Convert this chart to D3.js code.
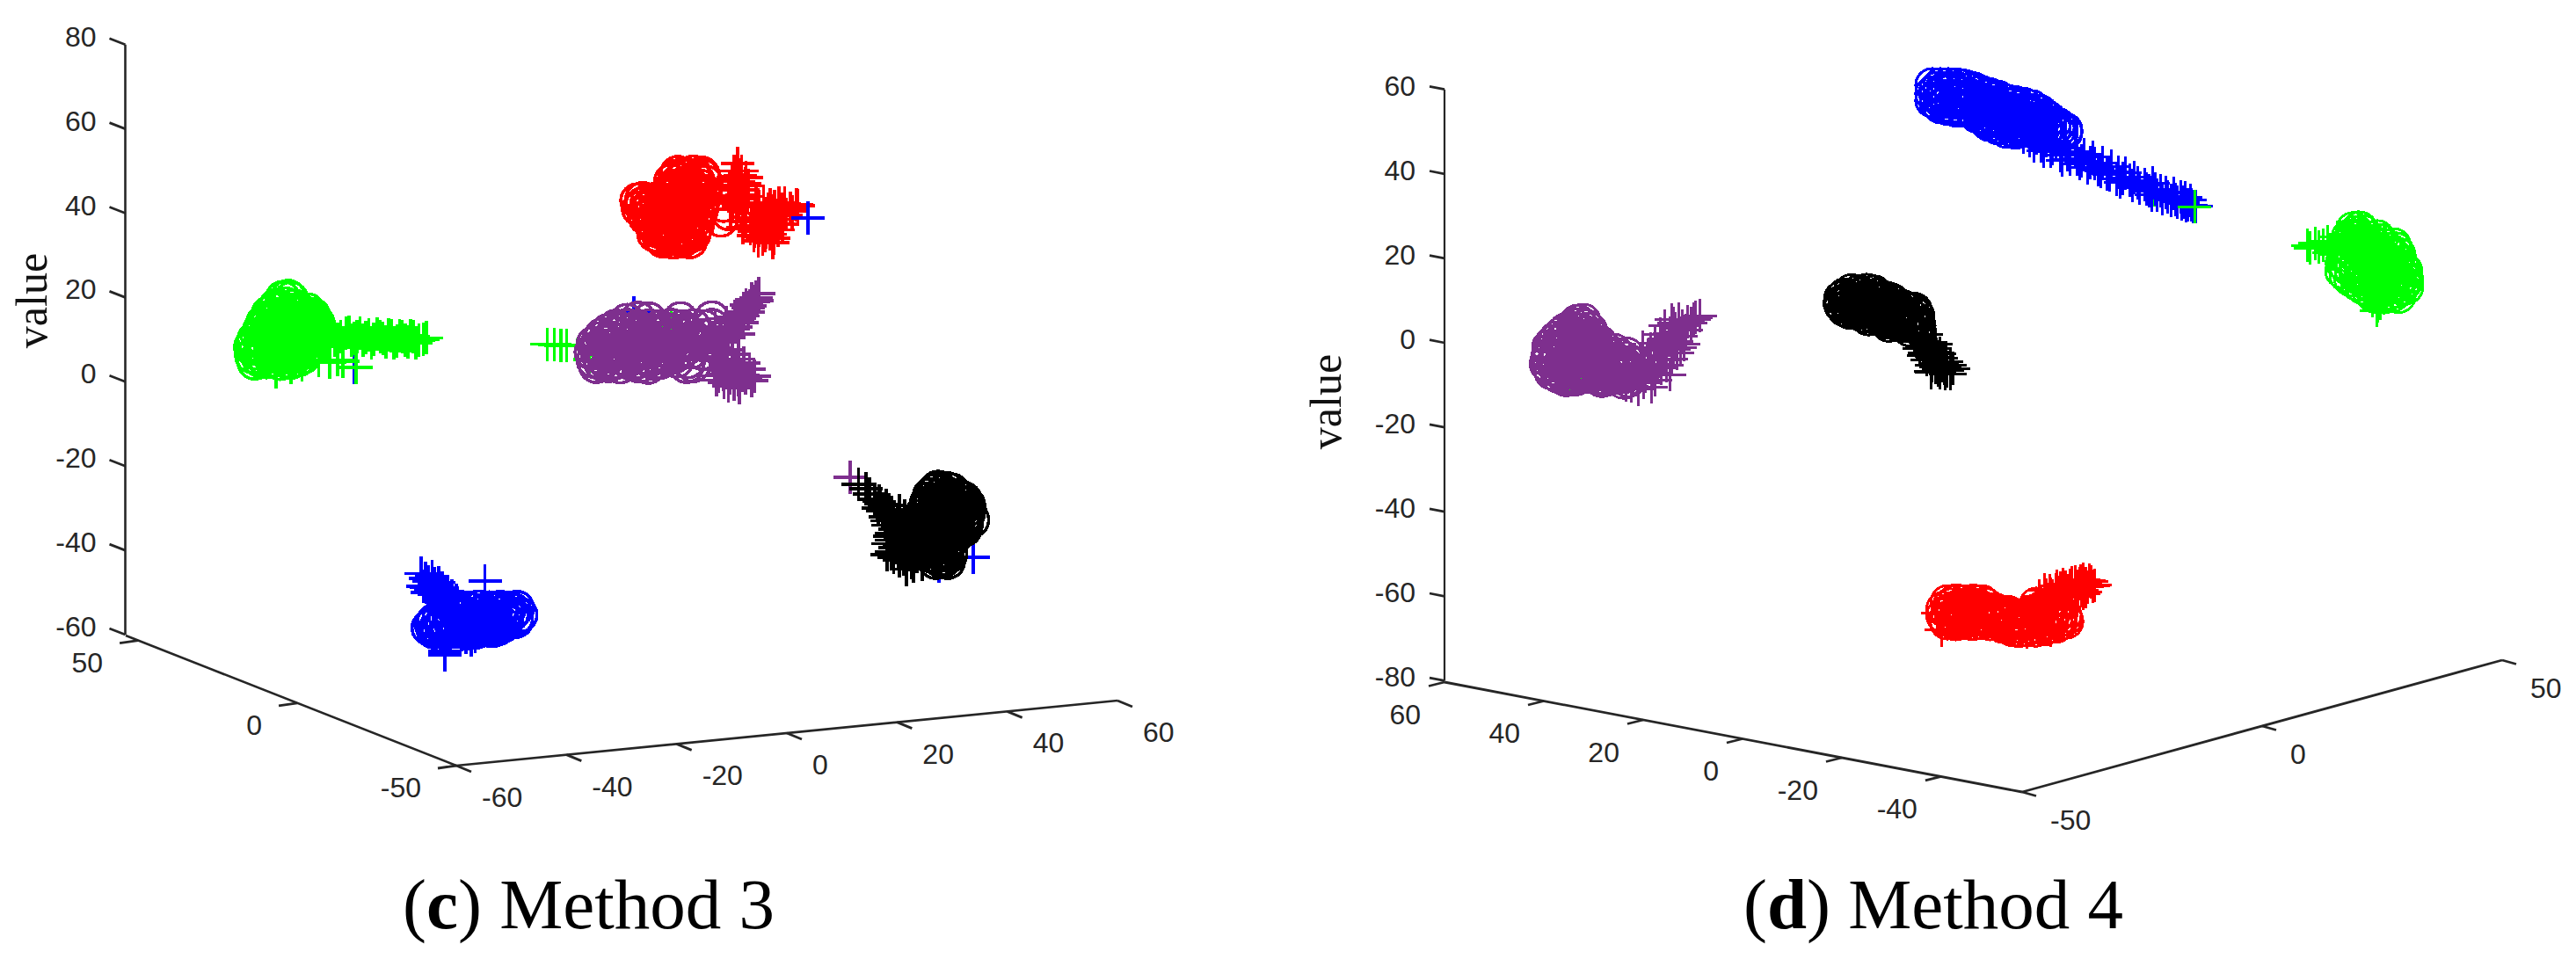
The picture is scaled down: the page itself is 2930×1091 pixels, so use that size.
<!DOCTYPE html>
<html>
<head>
<meta charset="utf-8">
<script src="https://cdn.jsdelivr.net/npm/d3@7"></script>
<style>
  html, body { margin: 0; background: #fff; }
  svg { display: block; }
  .tick { font: 32px "Liberation Sans", Arial, sans-serif; fill: #262626; }
  .title { font: 50px "Liberation Serif", "Times New Roman", serif; fill: #111; }
  .caption { font: 81px "Liberation Serif", "Times New Roman", serif; fill: #000; }
</style>
</head>
<body>
<svg id="chart" width="2930" height="1091"></svg>
<script>
// tick labels
const cXTicks = [-60, -40, -20, 0, 20, 40, 60]
const cYTicks = [50, 0, -50]
const cZTicks = [80, 60, 40, 20, 0, -20, -40, -60]
const dXTicks = [-50, 0, 50]
const dYTicks = [60, 40, 20, 0, -20, -40]
const dZTicks = [60, 40, 20, 0, -20, -40, -60, -80]

const GREEN = "#00ff00", RED = "#ff0000", BLUE = "#0000ff", BLACK = "#000000", PURPLE = "#7e2f8e"

// points: [reading on the x axis, reading on the value axis]
// Method 3
const cGreenCircle = [[-91.5,19.8],[-90.5,20.1],[-90,19.6],[-92.6,18],[-91,18.3],[-89.4,17.8],[-94,16.2],[-92.5,15.8],[-91,16.1],[-89.5,15.9],[-87.6,16.2],[-86,15.7],
  [-95,14],[-93.2,14.3],[-91.5,13.8],[-89.8,14.2],[-88,13.9],[-86.4,14.3],[-85.2,13.8],[-95.6,12.2],[-94,11.8],[-92.2,12.1],[-90.4,11.9],[-88.6,12.3],[-86.8,11.7],[-85,12.2],
  [-96.6,10.1],[-94.8,9.8],[-93,10.2],[-91.2,9.9],[-89.4,10.3],[-87.6,9.7],[-85.8,10.1],[-97.2,8.2],[-95.4,7.8],[-93.6,8.1],[-91.8,7.9],[-90,8.3],[-88.2,7.7],[-86.4,8.1],
  [-97,6.1],[-95,5.8],[-93.2,6.3],[-91.4,5.9],[-89.6,6.2],[-87.8,6],[-96.6,4.6],[-94.4,4.9],[-92,4.5],[-90,4.8],
  [-93.2,17],[-91.8,17.2],[-90.2,16.8],[-88.6,17.1],[-87,16.9],[-94.4,15],[-92.8,15.2],[-91.2,14.8],[-89.6,15.1],[-87.8,14.9],[-86.2,15.1],
  [-95.2,13],[-93.6,13.2],[-91.8,12.8],[-90,13.1],[-88.2,12.9],[-86.6,13.2],[-85.4,12.9],[-96,11],[-94.4,11.2],[-92.6,10.8],[-90.8,11.1],[-89,10.9],[-87.2,11.2],[-85.4,10.9],
  [-96.8,9],[-95,9.2],[-93.2,8.8],[-91.4,9.1],[-89.6,8.9],[-87.8,9.2],[-86,8.9],[-96.4,7],[-94.6,7.2],[-92.8,6.8],[-91,7.1],[-89.2,6.9],[-87.4,7.2],[-95.6,5.2],[-93.4,5.4],[-91,5.1],[-88.8,5.3]]
const cGreenPlus = [[-84,10.8],[-83,11.4],[-82,9.9],[-81,10.6],[-80,11.5],[-79,9.8],[-78,10.8],[-76.9,9.9],[-75.9,11.2],[-75,10],[-73.8,10.7],[-72.8,9.5],[-71.8,11],[-70.8,9.6],[-69.8,10.6],[-68.8,9.4],[-67.8,10.8],[-66.8,9.8],[-66,10.1],[-65.4,10.4],
  [-83.5,9.4],[-82.5,12],[-81.5,10],[-80.5,9.2],[-79.5,11.8],[-78.5,10.2],[-77.5,11.6],[-76.4,10.4],[-75.4,9.2],[-74.4,11.4],[-73.3,10.2],[-72.3,11.2],[-71.3,9.2],[-70.3,11],[-69.3,9.8],[-68.3,10.9],[-67.3,9.2],
  [-78.2,3.4],[-92.7,2.4],[-85,5],[-83,4.6],[-81.5,5.2],[-80.6,4.9],[-88,4],[-90,3.5],[-86.5,6.5]]
const cRedCircle = [[-19.8,49.5],[-18.6,49.2],[-17,49.6],[-15.4,49.3],[-21,47.5],[-19.4,47.8],[-17.8,47.3],[-16.2,47.6],[-14.8,47.2],[-21.6,45],[-20,45.3],[-18.4,44.8],[-16.6,45.2],[-15,45],
  [-27.1,43],[-26.2,43.3],[-25.2,42.8],[-23.6,43.2],[-22,42.8],[-20.4,43.2],[-18.8,42.9],[-17,43.1],[-15.4,42.8],[-26.8,41],[-25.2,41.2],[-23.6,40.8],[-22,41.1],[-20.4,40.9],[-18.8,41.2],[-17.2,40.9],[-15.6,41],
  [-25.6,39],[-24,38.8],[-22.4,39.2],[-20.8,38.9],[-19.2,39.1],[-17.6,38.8],[-16,39],[-24.4,37],[-22.8,37.2],[-21.2,36.8],[-19.6,37.1],[-18,36.9],[-16.4,37],
  [-24,35],[-22.2,35.2],[-20.4,34.8],[-18.6,35.1],[-17,35],[-22.4,33.5],[-20.6,33.3],[-19,33.6],[-17.6,33.4],[-11.5,42],[-10.5,40],[-12,38.5],
  [-20.2,48.5],[-18.4,48.7],[-16.6,48.3],[-15.2,48.6],[-20.8,46.2],[-19.2,46.4],[-17.4,46],[-15.8,46.3],[-21,44],[-19.2,44.2],[-17.6,43.8],[-16,44.1],
  [-26.2,42],[-24.6,42.2],[-22.8,41.8],[-21.2,42.1],[-19.6,41.9],[-18,42.2],[-16.4,41.9],[-25.8,40],[-24.4,40.2],[-22.8,39.8],[-21.2,40.1],[-19.6,39.9],[-18,40.2],[-16.4,39.9],
  [-24.8,38],[-23.2,38.2],[-21.6,37.8],[-20,38.1],[-18.4,37.9],[-16.8,38.1],[-23.6,36],[-22,36.2],[-20.2,35.8],[-18.6,36.1],[-16.8,35.9],[-23,34.2],[-21.4,34.4],[-19.8,34],[-18.2,34.3]]
const cRedPlus = [[-8.9,51.8],[-8.2,50],[-9.6,50],[-7.4,48.5],[-8.7,47.5],[-10,48],[-7,46.5],[-8,45.5],[-9.4,45.5],[-10.4,46],[-7.2,44],[-8.6,43.5],[-9.8,43],[-7.8,42],
  [-8.4,49],[-9.2,48.6],[-7.6,47],[-9,46.6],[-8.2,44.4],[-9.2,44.2],[-10.6,44],[-8.8,41.6],[-10.2,41],
  [2,41.8],[1.8,42],[0.6,41.2],[-0.4,42.3],[-0.8,41],[-1.4,42.4],[-2.2,41.6],[-3,42],[-3.4,41],[-4.2,42.3],[-5,41.6],[-5.6,42.5],[-1,38.5],[-2,39.5],[-3,38.4],[-4,39.8],[-5,38],[-5.8,40],
  [-1.6,36],[-2.8,36.5],[-3.8,35.6],[-5,36],[-5.9,35.7],[-2.4,34],[-2.6,33],[-4.4,33.8],[-5.2,33.4],[-6,34.7],[-7.4,38],[-8,36.5],
  [1,40.4],[-0.2,39.6],[-1.4,40.2],[-2.6,40.6],[-3.6,37.2],[-4.6,37],[-6.4,38.8],[-6.6,36.4],[-3,35],[-0.8,37.4],[-4,34.6]]
const cPurpleCircle = [[-13.6,15],[-19.3,14.8],[-27,14.9],[-29,14.4],[-25,14.7],[-31,13],[-29,13.2],[-27,12.8],[-25,13.1],[-23,12.9],[-21,13.2],[-19,12.8],[-17,13.1],[-15,12.9],[-13.6,13.2],
  [-33.5,11],[-31.5,11.2],[-29.5,10.8],[-27.5,11.1],[-25.5,10.9],[-23.5,11.2],[-21.5,10.8],[-19.5,11],[-17.5,11.2],[-15.5,10.8],[-13.5,11],
  [-35,9],[-33,9.2],[-31,8.8],[-29,9.1],[-27,8.9],[-25,9.2],[-23,8.8],[-21,9.1],[-19,8.9],[-17,9.2],[-15,8.9],
  [-35.4,7],[-33.4,7.2],[-31.4,6.8],[-29.4,7.1],[-27.4,6.9],[-25.4,7.2],[-23.4,6.8],[-21.4,7.1],[-19.4,6.9],[-17.4,7.2],[-15.4,6.9],
  [-35,5],[-33,5.2],[-31,4.8],[-29,5.1],[-27,4.9],[-25,5.2],[-23,4.8],[-20,5.1],[-18,4.9],[-34.6,3.8],[-32.4,4],[-30.2,3.7],[-26.8,3.9],[-25.2,3.6],[-18.2,3.8],[-17,4],
  [-32.4,12],[-30.4,12.2],[-28.4,11.8],[-26.4,12.1],[-24.4,11.9],[-22.4,12.2],[-20.4,11.8],[-18.4,12],[-34,10],[-32,10.2],[-30,9.8],[-28,10.1],[-26,9.9],[-24,10.2],[-22,9.8],[-20,10.1],[-18,9.9],
  [-34.4,8],[-32.4,8.2],[-30.4,7.8],[-28.4,8.1],[-26.4,7.9],[-24.4,8.2],[-22.4,7.8],[-20.4,8.1],[-18.4,7.9],[-34,6],[-32,6.2],[-30,5.8],[-28,6.1],[-26,5.9],[-24,6.2],[-22,5.8],[-20.5,6.1],[-33.6,4.4],[-31.5,4.6],[-28,4.3],[-24,4.5]]
const cPurplePlus = [[-5.1,20.9],[-5.6,20],[-6,19],[-6.7,18],[-7,17.5],[-7.4,18.2],[-7.8,16.5],[-8,15.6],[-8.6,15],[-9,14.2],[-9.2,13],[-8.8,11.3],[-9.8,12.5],[-10,11.4],[-10.6,10.5],[-11,14],[-11.6,9.5],[-12,11.5],[-12.6,8],[-13,13],[-13.4,10],
  [-5.4,19.2],[-6.4,19.6],[-7,16.6],[-8.2,14],[-9.4,15.4],[-10.4,13],[-11.2,12],[-12.2,9.6],
  [-5.9,1.3],[-6.8,3],[-7.5,0.8],[-8.6,-1.4],[-9,2.2],[-9.6,-0.6],[-10,4],[-10.4,1],[-11,2.8],[-11.4,-0.2],[-12,5],[-12.4,1.4],[-13,3],[-7.8,4.5],[-8.8,5.4],[-9.8,6.5],[-11,7.6],[-12.2,7],[-13.5,6],[-6.4,0.3],
  [-8,1.6],[-8.8,0.4],[-9.4,3.4],[-10.6,-1],[-11.6,1.8],[-12.8,0.4],[-10.8,5.2]]
const cBlackCircle = [[27.4,-25.2],[29,-25.5],[26,-27],[27.6,-27.2],[29.2,-26.8],[31,-27.1],[25.4,-29],[27,-29.2],[28.6,-28.8],[30.2,-29.1],[31.8,-28.9],[32.8,-29.1],
  [24.8,-31],[26.4,-31.2],[28,-30.8],[29.6,-31.1],[31.2,-30.9],[32.8,-31.2],[24.4,-33],[26,-33.2],[27.6,-32.8],[29.2,-33.1],[30.8,-32.9],[32.4,-33.1],[33.6,-32.8],
  [24.2,-35],[25.8,-35.2],[27.4,-34.8],[29,-35.1],[30.6,-34.9],[32.2,-35],[24,-37],[25.6,-37.2],[27.2,-36.8],[28.8,-37.1],[30.4,-36.9],
  [24.4,-39],[26,-39.2],[27.6,-38.8],[29.2,-39],[25.6,-41],[27.2,-41.2],[28.6,-40.8],[29.6,-41],[27,-42.7],[28.2,-42.5],[29.2,-42.7],
  [26.8,-26],[28.4,-26.2],[30,-25.9],[25.8,-28],[27.4,-28.2],[29,-27.8],[30.6,-28.1],[32.2,-27.9],[25.2,-30],[26.8,-30.2],[28.4,-29.8],[30,-30.1],[31.6,-29.9],[33,-30.1],
  [24.6,-32],[26.2,-32.2],[27.8,-31.8],[29.4,-32.1],[31,-31.9],[32.6,-32.1],[24.4,-34],[26,-34.2],[27.6,-33.8],[29.2,-34.1],[30.8,-33.9],[32.4,-34.1],
  [24.4,-36],[26,-36.2],[27.6,-35.8],[29.2,-36.1],[30.8,-35.9],[24.8,-38],[26.4,-38.2],[28,-37.8],[29.6,-38.1],[25.8,-40],[27.4,-40.2],[29,-39.9],[27.6,-42],[28.8,-41.9]]
const cBlackPlus = [[13,-24.3],[16,-27.9],[18,-29.4],[20.4,-30.6],[17,-29],[19,-31],[16.6,-30],[17.8,-32],[20,-33],[18.4,-34],[19.6,-35],[18.7,-36.6],[20.6,-37],[18.4,-38.4],[19.6,-39.4],[18.2,-41],[21,-40],[19.4,-41.6],[20.4,-42.4],[21.7,-44.5],[22.6,-43],[23.6,-41.5],[21,-35],[22,-38],[22.6,-32.6],[23.6,-36],[21.4,-31.8],[24.6,-43.4],[15,-26.6],[14.4,-25.4],
  [16.8,-28.4],[17.4,-30.6],[18.6,-30.4],[18.2,-33],[19.2,-32.6],[19,-36],[20,-36],[19,-37.6],[20.4,-38.6],[21.6,-39.2],[19,-40.4],[20.2,-40.8],[21.2,-42],[22,-41],[21.4,-33.6],[23,-34.6],[22.8,-39.6],[21.4,-37],[23,-43.8]]
const cBlueCircle = [[-60,-53.7],[-58,-53.9],[-56,-53.6],[-54,-53.8],[-52,-53.7],[-50.5,-53.9],[-49,-53.7],[-62,-55.2],[-60,-55],[-58,-55.3],[-56,-55.1],[-54,-55.3],[-52,-55],[-50,-55.2],[-48.4,-55.3],
  [-64,-56.8],[-62.4,-57],[-60.6,-56.7],[-58.8,-56.9],[-57,-56.7],[-55,-57],[-53,-56.8],[-51,-56.9],[-49.2,-56.7],[-65,-58.4],[-63.2,-58.5],[-61.4,-58.2],[-59.6,-58.4],[-57.8,-58.2],[-56,-58.5],[-54,-58.3],[-52.4,-58.4],
  [-64,-59.2],[-62,-59.4],[-60,-59.1],[-58,-59.4],[-56.4,-59.2],
  [-61,-54.4],[-59,-54.6],[-57,-54.3],[-55,-54.5],[-53,-54.3],[-51,-54.6],[-49.5,-54.4],[-63,-56],[-61.2,-56.2],[-59.2,-55.9],[-57.2,-56.1],[-55.2,-55.9],[-53.2,-56.2],[-51.2,-56],[-49.2,-56.1],
  [-64.4,-57.6],[-62.6,-57.8],[-60.8,-57.5],[-59,-57.7],[-57.2,-57.5],[-55.4,-57.8],[-53.4,-57.6],[-51.4,-57.7],[-63.6,-58.9],[-61.6,-59],[-59.6,-58.8],[-57.6,-59],[-55.4,-58.8],[-53.5,-58.9]]
const cBluePlus = [[-66.4,-45.5],[-65.6,-46.6],[-65,-47.4],[-64.4,-46.2],[-64,-48],[-66,-48.5],[-63.2,-47.6],[-62.6,-49],[-65.2,-50],[-64,-50.4],[-62,-50.6],[-63,-52],[-61.2,-52],[-62,-53.4],[-60.4,-53.2],[-61.2,-54.6],[-54.8,-47.3],
  [-65.4,-48.8],[-64.6,-49.4],[-63.4,-49.2],[-62.8,-50.8],[-61.6,-49.8],[-60.8,-50.8],[-60,-51.8],
  [-62.1,-64.8],[-62,-64],[-57.3,-61.2],[-58.2,-60.6],[-56.6,-60.4],[-59,-60]]
// outliers that sit under the clusters
const cBlueUnder = [[-27.8,16.3],[-78.5,3.5],[33.8,-41.6],[27.6,-43.8]]
const cGreenUnder = [[-21,13.4],[-35.8,5.3],[-35.3,9.9],[-43.5,8.9],[-42.2,8.8],[-41,8.6],[-40,8.6]]
const cPurpleUnder = [[11.5,-22.7]]
const cBlueOver = [[3.8,38.8]]

// Method 4
const dPurpleCircle = [[-142.6,5],[-141.4,5.2],[-145,3],[-143.4,3.2],[-141.8,2.8],[-140,3],[-147,1],[-145.4,1.2],[-143.8,0.8],[-142.2,1.1],[-140.6,0.9],[-139,1],
  [-148.5,-1],[-146.8,-1.2],[-145.2,-0.8],[-143.6,-1.1],[-142,-0.9],[-140.4,-1.2],[-138.8,-0.8],[-137.2,-1],
  [-148.6,-3],[-147,-3.2],[-145.4,-2.8],[-143.8,-3.1],[-142.2,-2.9],[-140.6,-3.2],[-139,-2.8],[-137.4,-3.1],[-135.8,-2.9],[-134,-3.1],[-132.4,-2.8],
  [-149,-5],[-147.4,-5.2],[-145.8,-4.8],[-144.2,-5.1],[-142.6,-4.9],[-141,-5.2],[-139.4,-4.8],[-137.8,-5.1],[-136.2,-4.9],[-134.6,-5.2],[-133,-4.8],[-131,-5],
  [-148,-7],[-146,-7.2],[-144.6,-6.8],[-143,-7.1],[-141.4,-6.9],[-139.8,-7.2],[-138.2,-6.8],[-136.6,-7.1],[-135,-6.9],[-133.4,-7.2],[-131.6,-6.9],
  [-145,-8.6],[-143,-8.4],[-137.6,-8.8],[-136.6,-8.5],[-133,-9.2],[-132,-8.8],
  [-143.4,4],[-142,4.2],[-140.8,3.8],[-146,2],[-144.4,2.2],[-142.8,1.8],[-141.2,2.1],[-139.6,1.9],[-147.8,0],[-146.2,0.2],[-144.6,-0.2],[-143,0.1],[-141.4,-0.1],[-139.8,0.2],[-138,0],
  [-148.4,-2],[-146.8,-2.2],[-145.2,-1.8],[-143.6,-2.1],[-142,-1.9],[-140.4,-2.2],[-138.8,-1.8],[-137.2,-2.1],[-135,-1.9],[-148.8,-4],[-147.2,-4.2],[-145.6,-3.8],[-144,-4.1],[-142.4,-3.9],[-140.8,-4.2],[-139.2,-3.8],[-137.6,-4.1],[-136,-3.9],[-134.4,-4.2],[-132.6,-3.9],
  [-148.4,-6],[-146.8,-6.2],[-145.2,-5.8],[-143.6,-6.1],[-142,-5.9],[-140.4,-6.2],[-138.8,-5.8],[-137.2,-6.1],[-135.6,-5.9],[-134,-6.2],[-132,-5.9],[-146.6,-7.8],[-145,-8],[-143.4,-7.7],[-141.6,-7.9],[-139.8,-7.8],[-138,-8],[-136,-7.8],[-134,-8],[-132.6,-7.8]]
const dPurplePlus = [[-117.1,6.4],[-118.4,5.6],[-119.6,5],[-120,3],[-120.8,4],[-121.6,5.6],[-123,5.5],[-122.2,3.4],[-121,1.6],[-120.5,-0.4],[-122,0.4],[-123.4,2.2],[-124.4,4],[-125.4,2],[-124,-1],[-121.8,-2.4],[-123,-3.8],[-125,-0.6],[-126.4,0],[-127.4,-1.4],[-125.6,-3],[-124,-5.4],[-123.4,-7.5],[-125.2,-6],[-126.6,-4],[-128,-3],[-129,-1.1],[-127,-7.2],[-127.2,-10.5],[-128.4,-8],[-130,-11],[-129.4,-6],[-131,-8.4],[-130.6,-4],[-132,-6],[-132.6,-10],[-133,-6],
  [-118,6],[-119,4.6],[-122.6,4.6],[-123.6,0.6],[-121.2,-1.2],[-122.6,-1.6],[-124.6,1],[-126,-1.8],[-124.6,-4],[-126,-5.2],[-127.6,-5.6],[-128.6,-6.4],[-126.4,-8.8],[-128.8,-9.4],[-130,-7.2],[-131.4,-10.2]]
const dBlackCircle = [[-85.6,12.2],[-84,12],[-82.4,12.3],[-80.8,11.9],[-87,11.2],[-85.4,11],[-83.8,11.3],[-82.2,11],[-80.6,11.1],[-79,10.6],
  [-87.7,10.5],[-86,10.3],[-84.4,10.1],[-82.8,10.4],[-81.2,10.2],[-79.6,10],[-78,10.3],[-87.8,9.4],[-86.4,9.6],[-84.8,9.2],[-83.2,9.5],[-81.6,9.3],[-80,9.6],[-78.4,9.2],[-76.8,9.4],
  [-87.6,8.8],[-86,8.6],[-84.4,8.4],[-82.8,8.7],[-81.2,8.5],[-79.6,8.3],[-78,8.6],[-76.4,8.4],[-75,8.5],
  [-86,7.4],[-84.4,7.2],[-82.8,7.5],[-81.2,7.3],[-79.6,7.6],[-78,7.2],[-76.4,7.5],[-74.8,7.3],[-73,7.5],[-72.4,7.8],
  [-82,5.8],[-80.4,6],[-78.8,5.6],[-77.2,5.9],[-75.6,5.7],[-74,6],[-72.4,5.7],[-71.8,6.3],[-77.7,4.3],[-76,4.5],[-74.4,4.2],[-72.8,4.4],[-71.6,4.1],[-73.4,3.2],[-72,3.7],
  [-86.8,9.9],[-85.2,9.8],[-83.6,10],[-82,9.8],[-80.4,10],[-78.8,9.9],[-77.2,10],[-87,8],[-85.4,7.9],[-83.8,8.1],[-82.2,7.9],[-80.6,8.1],[-79,7.9],[-77.4,8.1],[-75.8,7.9],[-74.2,8.1],
  [-83,6.6],[-81.4,6.7],[-79.8,6.5],[-78.2,6.7],[-76.6,6.5],[-75,6.7],[-73.4,6.5],[-78,5],[-76.4,5.1],[-74.8,4.9],[-73.2,5.1]]
const dBlackPlus = [[-71.4,-1.3],[-69,0.1],[-70,-0.6],[-70.4,-2.4],[-69.2,-1.8],[-68.2,-1.4],[-67.2,-2.6],[-68.6,-3.4],[-69.8,-4],[-66.8,-3.6],[-65.8,-4.4],[-67.6,-4.8],[-68.8,-5.4],[-65,-5.4],[-64.3,-6.1],[-66.2,-6],[-67.4,-6.4],[-69,-6.8],[-68.9,-7],[-67.2,-7],[-66,-7.3],[-65,-7.3],[-71,1],[-70,2],[-72,0.4],[-68,-0.4],
  [-70.6,0.4],[-69.6,-1],[-68.6,-2.2],[-67.6,-3.4],[-66.6,-4.8],[-68,-5.8],[-66.8,-5.4],[-65.6,-6.6],[-70.6,-3],[-69.4,-3]]
const dBlueCircle = [[-68.7,61],[-68.7,59],[-68.7,57.4],[-67,61],[-67,59.4],[-67,57.6],[-67,56],[-65.4,61],[-65.4,59.2],[-65.4,57.4],[-65.4,55.6],[-63.6,60.9],[-63.6,59],[-63.6,57.2],[-63.6,55.2],
  [-62,60.6],[-62,58.8],[-62,57],[-62,55.2],[-60.2,60],[-60.2,58.2],[-60.2,56.4],[-60.2,54.6],[-58.5,59.2],[-58.5,57.4],[-58.5,55.6],[-58.5,53.6],
  [-56.8,58.6],[-56.8,56.8],[-56.8,55],[-56.8,53],[-56.8,51.8],[-55,58],[-55,56.2],[-55,54.4],[-55,52.6],[-55,51],[-53.2,57.1],[-53.2,55.3],[-53.2,53.5],[-53.2,51.7],[-53.2,50.2],
  [-51.4,56.7],[-51.4,54.9],[-51.4,53.1],[-51.4,51.3],[-51.4,50],[-49.6,56.3],[-49.6,54.5],[-49.6,52.7],[-49.6,50.9],[-48,55.8],[-48,54],[-48,52.2],[-48,50.4],
  [-46.2,54.6],[-46.2,52.8],[-46.2,51],[-46.2,49.6],[-44.4,53],[-44.4,51.4],[-44.4,49.8],[-42.6,51.6],[-42.6,50.2],[-41,50.4],[-41,49.8],
  [-67.8,60],[-67.8,58.4],[-67.8,56.8],[-66.2,60],[-66.2,58.2],[-66.2,56.4],[-64.6,60],[-64.6,58.2],[-64.6,56.2],[-62.8,59.8],[-62.8,58],[-62.8,56],[-61,59.6],[-61,57.8],[-61,55.8],
  [-59.4,59],[-59.4,57.2],[-59.4,55.4],[-59.4,53.8],[-57.6,58.2],[-57.6,56.2],[-57.6,54.4],[-57.6,52.6],[-56,57.6],[-56,55.6],[-56,53.6],[-56,52],[-54,56.6],[-54,54.8],[-54,53],[-54,51.2],
  [-52.2,56.2],[-52.2,54.2],[-52.2,52.4],[-52.2,50.6],[-50.4,55.8],[-50.4,53.8],[-50.4,52],[-50.4,50.4],[-48.8,55],[-48.8,53],[-48.8,51.2],[-47,54.6],[-47,52.8],[-47,51],[-47,49.8],[-45.2,53.6],[-45.2,51.8],[-45.2,50.2],[-43.4,52],[-43.4,50.6],[-42,51],[-42,49.6]]
const dBluePlus = [[-49.8,48.8],[-48.4,47.8],[-47,48.4],[-46,46.6],[-45,47.8],[-44,45.3],[-43,47],[-42,44.4],[-41,46],[-40,43.4],[-39,45.2],[-38,42.4],[-37,44.6],[-36.3,41.5],[-35.2,44],[-34.2,41],[-33.2,42.6],[-32.4,40],[-31.4,41.8],[-30.4,38.8],[-29.5,38],[-28.5,40.2],[-27.6,38.4],[-26.6,39.2],[-25.5,36.7],[-24.5,37.4],[-23.6,36],[-22.8,37.8],[-21.8,35],[-20.7,34.2],[-20,35.6],[-19,33.8],[-18.4,35.4],[-17.6,33.4],[-16.8,32.9],[-16,34.4],[-15.4,32.6],[-14.4,32.2],[-15,33.8],[-13.8,32.3],
  [-47.6,46.6],[-45.6,45.4],[-43.6,46],[-41.6,43.2],[-40.6,44.6],[-38.6,43.6],[-37.6,43],[-35.8,42.6],[-34.8,42.4],[-33.6,40.6],[-31.8,39.8],[-30,40.4],[-29,39],[-27,37.2],[-26,37.8],[-24,36.4],[-23,35],[-22.2,36.4],[-21.2,36],[-19.6,34.6],[-18,34],[-17,34.6],[-16.4,33.2],[-15.8,32.4],[-14.8,32.6]]
const dGreenCircle = [[19,26.9],[20.4,27],[18,25],[20,25.2],[22,24.8],[24,25],[17.4,23],[19.6,23.2],[21.4,22.8],[23.4,23.1],[25.4,22.9],[27.4,23.1],
  [17,21],[19,21.2],[21,20.8],[23,21.1],[25,20.9],[27,21.2],[28.4,20.8],[16.8,19],[18.8,19.2],[20.8,18.8],[22.8,19.1],[24.8,18.9],[26.8,19.2],[28.8,18.8],
  [16.7,17],[18.7,17.2],[20.7,16.8],[22.7,17.1],[24.7,16.9],[26.7,17.2],[28.7,16.8],[29.8,17.1],[18.6,15],[20.6,15.2],[22.6,14.8],[24.6,15.1],[26.6,14.9],[28.6,15.2],[30,14.8],
  [21,13.2],[23,13.4],[25,13],[27,13.3],[29,13.1],[30,13.2],[23.4,11.2],[25.4,11],[27,11.3],[28.4,11.1],
  [19.4,26],[21,26.2],[18.6,24],[20.8,24.2],[22.8,23.8],[24.6,24.1],[18.2,22],[20.2,22.2],[22.2,21.8],[24.2,22.1],[26.2,21.9],[27.8,22.1],[17.8,20],[19.8,20.2],[21.8,19.8],[23.8,20.1],[25.8,19.9],[27.8,20.2],
  [17.6,18],[19.6,18.2],[21.6,17.8],[23.6,18.1],[25.6,17.9],[27.6,18.2],[29.2,17.9],[17.6,16],[19.6,16.2],[21.6,15.8],[23.6,16.1],[25.6,15.9],[27.6,16.2],[29.4,15.9],
  [20,14],[22,14.2],[24,13.8],[26,14.1],[28,13.9],[29.6,14.1],[22.4,12.2],[24.4,12.4],[26.4,12],[28.2,12.3]]
const dGreenPlus = [[9.5,23],[10,22.4],[11,23.6],[11.8,22.6],[12.8,23],[13.6,24],[14,21.3],[14.6,22],[15,21],[16.7,23.6],[17.4,25.6],[15.6,25],[18.8,26.6],[20,27.4],[21,26],[23.8,24.6],[25.8,24.3],[25.4,25],[23.9,7.6],[24.6,9.4],[23,10],[22.4,12],[24,8.8]]
const dRedCircle = [[-65.5,-61.4],[-63.8,-61.2],[-62,-61.5],[-60.2,-61.3],[-58.4,-61.4],[-47,-62],[-45,-62.2],
  [-66.4,-63],[-64.6,-63.2],[-62.8,-62.8],[-61,-63.1],[-59.2,-62.9],[-57.4,-63.2],[-55.6,-63.4],[-46,-63],[-44.4,-63.2],[-43,-62.9],
  [-66.4,-64.6],[-64.6,-64.8],[-62.8,-64.4],[-61,-64.7],[-59.2,-64.5],[-57.4,-64.8],[-55.6,-64.4],[-53.8,-64.7],[-52,-64.5],[-50.2,-64.8],[-48.4,-64.4],[-46.6,-64.7],[-44.8,-64.5],[-43,-64.8],[-41.2,-64.5],
  [-65.6,-66.2],[-63.8,-66.4],[-62,-66],[-60.2,-66.3],[-58.4,-66.1],[-56.6,-66.4],[-54.8,-66],[-53,-66.3],[-51.2,-66.1],[-49.4,-66.4],[-47.6,-66],[-45.8,-66.3],[-44,-66.1],[-42.2,-66.4],[-40.8,-66],
  [-52,-67.8],[-50.7,-68],[-49,-67.7],[-47.2,-67.9],[-45.4,-67.6],
  [-65,-62.2],[-63,-62.4],[-61,-62],[-59.2,-62.3],[-57.6,-62.1],[-65.4,-63.8],[-63.6,-64],[-61.8,-63.6],[-60,-63.9],[-58.2,-63.7],[-56.4,-64],[-54.6,-63.8],[-52.8,-64],[-47,-63.7],[-45.2,-64],[-43.4,-63.7],[-42,-63.9],
  [-65.8,-65.4],[-64,-65.6],[-62.2,-65.2],[-60.4,-65.5],[-58.6,-65.3],[-56.8,-65.6],[-55,-65.2],[-53.2,-65.5],[-51.4,-65.3],[-49.6,-65.6],[-47.8,-65.2],[-46,-65.5],[-44.2,-65.3],[-42.4,-65.6],[-41,-65.3],
  [-54,-67],[-52.4,-67.2],[-50.4,-66.9],[-48.6,-67.1],[-46.8,-66.9],[-44.8,-67.1],[-43,-67]]
const dRedPlus = [[-34.8,-57.4],[-35.6,-56.6],[-37.2,-56],[-36.4,-57.8],[-35.2,-57.6],[-38,-57],[-39,-56.6],[-37.6,-58.6],[-38.8,-58.4],[-40,-57.4],[-41,-57.8],[-42,-58],[-40,-59.4],[-43,-58.4],[-44.2,-58.6],[-45.4,-58.5],[-41.6,-59.6],[-43.6,-60],[-39,-60],[-36.8,-59],[-67.6,-64],[-66.8,-68],[-58.2,-61.2],[-63.9,-66.6],[-61,-66.6],[-49,-68.4],[-44,-68],
  [-36,-56.2],[-36.8,-57],[-37.8,-56.4],[-38.6,-57.6],[-39.6,-56.8],[-40.6,-58.6],[-41.4,-57.2],[-42.6,-59.2],[-42.8,-57.6],[-44,-59.6],[-37.2,-59.4],[-38.4,-59.8],[-40.8,-60.2],[-45,-59.8],[-46.4,-60]]
const dGreenUnder = [[-144,-8.2],[-22.5,36.2]]
const dGreenOver = [[-14.1,32.2]]

const PLUS_R = 19, CIRCLE_R = 19

const svg = d3.select("#chart")

// one oblique axis: two scales give the pixel position of a tick along it
const drawAxis = (g, ticks, sx, sy, tickVec, labelOff, anchor, w) => {
  const dom = d3.extent(sx.domain())
  g.append("path")
    .attr("d", d3.line()([[sx(dom[0]), sy(dom[0])], [sx(dom[1]), sy(dom[1])]]))
    .attr("stroke", "#262626").attr("stroke-width", w).attr("fill", "none")
  g.selectAll(null).data(ticks).join("path")
    .attr("d", d => d3.line()([[sx(d), sy(d)], [sx(d) + tickVec[0], sy(d) + tickVec[1]]]))
    .attr("stroke", "#262626").attr("stroke-width", 2.8).attr("fill", "none")
  g.selectAll(null).data(ticks).join("text")
    .attr("class", "tick")
    .attr("text-anchor", anchor)
    .attr("dominant-baseline", "central")
    .attr("x", d => sx(d) + labelOff[0])
    .attr("y", d => sy(d) + labelOff[1])
    .text(d => d)
}

const drawCircles = (g, pts, c, h, v, w) => {
  g.selectAll(null).data(pts).join("circle")
    .attr("cx", d => h(d[0])).attr("cy", d => v(d[1])).attr("r", CIRCLE_R)
    .attr("fill", "none").attr("stroke", c).attr("stroke-width", w)
    .attr("shape-rendering", "crispEdges")
}

const drawPlus = (g, pts, c, h, v, w) => {
  g.selectAll(null).data(pts).join("path")
    .attr("d", d => `M${h(d[0]) - PLUS_R} ${v(d[1])}H${h(d[0]) + PLUS_R}M${h(d[0])} ${v(d[1]) - PLUS_R}V${v(d[1]) + PLUS_R}`)
    .attr("fill", "none").attr("stroke", c).attr("stroke-width", w)
    .attr("shape-rendering", "crispEdges")
}

// Method 3 scales and axes
const cXPx = d3.scaleLinear().domain([-60, 60]).range([519, 1271])
const cXPy = d3.scaleLinear().domain([-60, 60]).range([871, 797])
const cYPx = d3.scaleLinear().domain([-50, 53.9]).range([519, 143])
const cYPy = d3.scaleLinear().domain([-50, 53.9]).range([871, 723])
const cZPy = d3.scaleLinear().domain([-60, 80]).range([722, 50.7])
const cZPx = d3.scaleLinear().domain([-60, 80]).range([142.5, 142.5])
const cW = 3.6

const gc = svg.append("g")
drawAxis(gc, cZTicks, cZPx, cZPy, [-18, -7], [-33, -9], "end", 2.6)
drawAxis(gc, cYTicks, cYPx, cYPy, [-21, 3], [-40, 25], "end", 2.6)
drawAxis(gc, cXTicks, cXPx, cXPy, [17, 7], [29, 36], "start", 2.6)

drawPlus(gc, cBlueUnder, BLUE, cXPx, cZPy, cW)
drawPlus(gc, cGreenUnder, GREEN, cXPx, cZPy, cW)
drawPlus(gc, cPurpleUnder, PURPLE, cXPx, cZPy, cW)
;[[cGreenCircle, cGreenPlus, GREEN], [cRedCircle, cRedPlus, RED], [cPurpleCircle, cPurplePlus, PURPLE],
  [cBlackCircle, cBlackPlus, BLACK], [cBlueCircle, cBluePlus, BLUE]].forEach(s => {
  drawCircles(gc, s[0], s[2], cXPx, cZPy, cW)
  drawPlus(gc, s[1], s[2], cXPx, cZPy, cW)
})
drawPlus(gc, cBlueOver, BLUE, cXPx, cZPy, cW)

// Method 4 scales and axes
const dXPx = d3.scaleLinear().domain([-50, 50]).range([2300, 2846])
const dXPy = d3.scaleLinear().domain([-50, 50]).range([901, 751])
const dYPx = d3.scaleLinear().domain([60, -56.3]).range([1643, 2300])
const dYPy = d3.scaleLinear().domain([60, -56.3]).range([776, 901])
const dZPy = d3.scaleLinear().domain([-80, 60]).range([774.4, 101.7])
const dZPx = d3.scaleLinear().domain([-80, 60]).range([1643, 1643])
const dW = 3

const gd = svg.append("g")
drawAxis(gd, dZTicks, dZPx, dZPy, [-17, -3.3], [-33, -4], "end", 2.2)
drawAxis(gd, dYTicks, dYPx, dYPy, [-18, 4.5], [-27, 37], "end", 2.8)
drawAxis(gd, dXTicks, dXPx, dXPy, [16, 4.5], [32, 32], "start", 2.8)

drawPlus(gd, dGreenUnder, GREEN, dXPx, dZPy, dW)
;[[dPurpleCircle, dPurplePlus, PURPLE], [dBlackCircle, dBlackPlus, BLACK], [dBlueCircle, dBluePlus, BLUE],
  [dGreenCircle, dGreenPlus, GREEN], [dRedCircle, dRedPlus, RED]].forEach(s => {
  drawCircles(gd, s[0], s[2], dXPx, dZPy, dW)
  drawPlus(gd, s[1], s[2], dXPx, dZPy, dW)
})
drawPlus(gd, dGreenOver, GREEN, dXPx, dZPy, dW)

// axis names and captions
const createValue = (x, y) => {
  svg.append("text").attr("class", "title")
    .attr("text-anchor", "middle")
    .attr("transform", `translate(${x},${y}) rotate(-90)`)
    .text("value")
}
createValue(53, 342)
createValue(1525, 457)

const createCaption = (x, letter, rest) => {
  const t = svg.append("text").attr("class", "caption").attr("x", x).attr("y", 1056)
  t.append("tspan").text("(")
  t.append("tspan").attr("font-weight", "bold").text(letter)
  t.append("tspan").text(") " + rest)
}
createCaption(458, "c", "Method 3")
createCaption(1983, "d", "Method 4")
</script>
</body>
</html>
